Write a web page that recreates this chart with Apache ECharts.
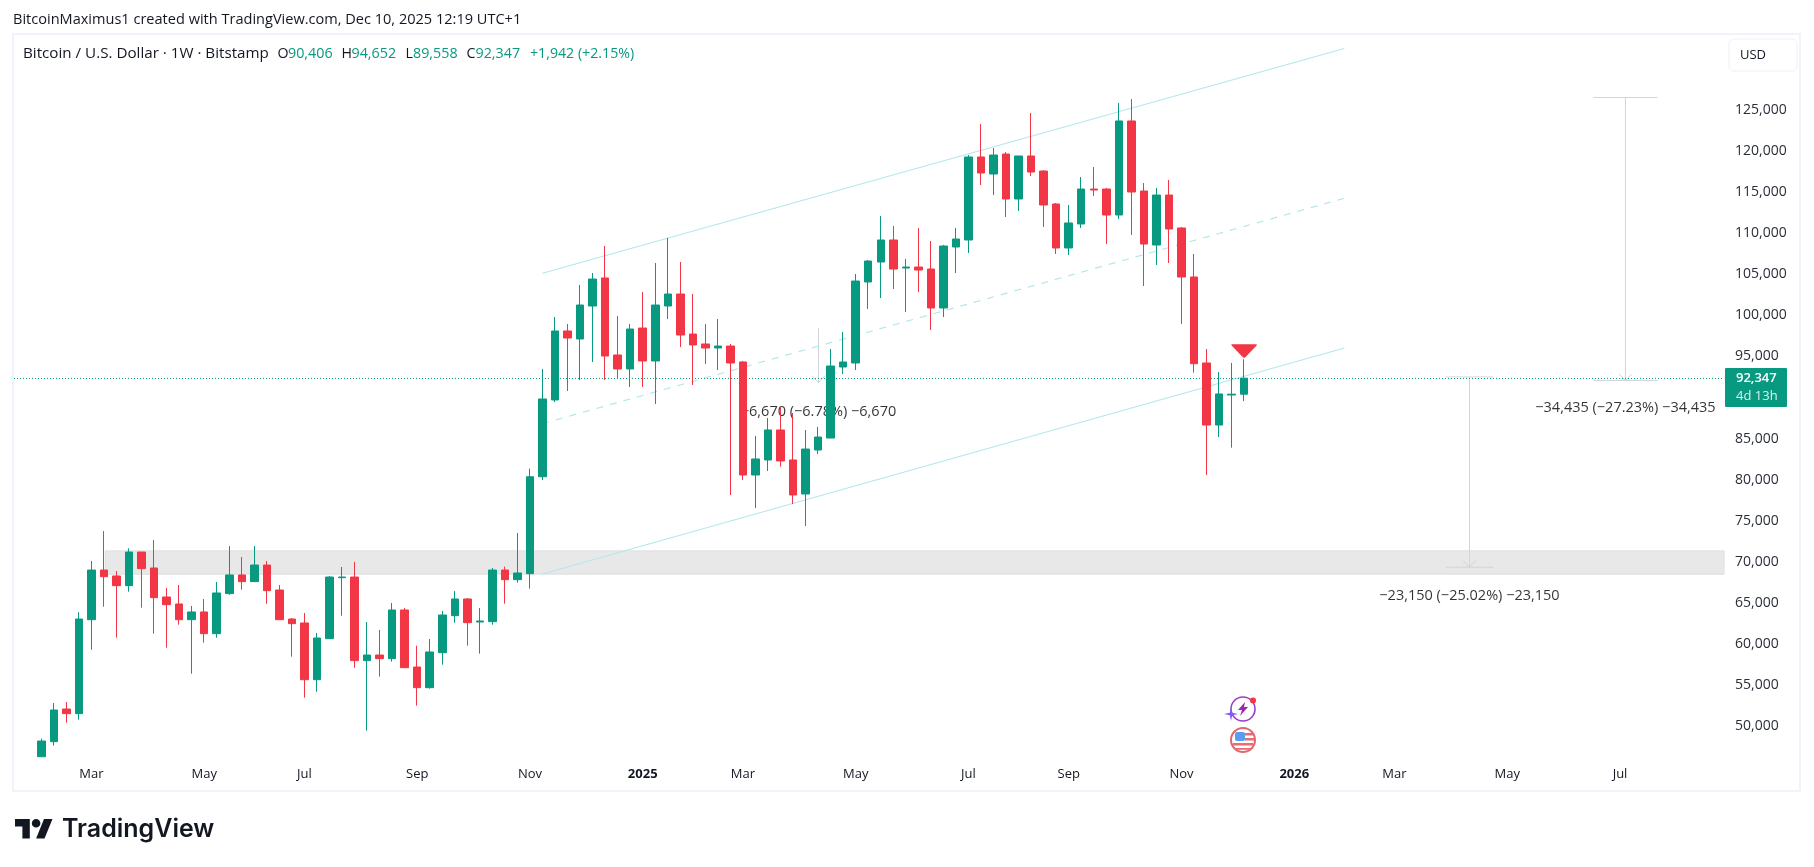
<!DOCTYPE html>
<html>
<head>
<meta charset="utf-8">
<title>Bitcoin / U.S. Dollar 1W</title>
<script src="https://cdn.jsdelivr.net/npm/echarts@6/dist/echarts.min.js"></script>
<style>
  html, body { margin: 0; padding: 0; background: #fff; }
  #chart { width: 1814px; height: 867px; }
</style>
</head>
<body>
<div id="chart"></div>
<script>
// Weekly BTC/USD candles on Bitstamp; the x axis counts weeks from the week of 5 Feb 2024.
const opens = [46300,48130,52100,51540,62970,69010,68290,67110,71200,69260,65730,64880,62970,63910,61270,66140,68410,67600,69620,66580,
  63050,62570,55670,60660,68080,68160,57990,58670,58230,64150,57210,54700,58960,63460,65490,62690,62730,69010,67840,68570,
  80360,89700,98090,97120,101130,104540,95170,93470,98450,94440,101130,102590,97720,96510,96020,96260,94320,80570,82400,86050,
  82400,78260,83610,85070,93710,94200,104050,106480,109160,105750,105870,105630,100890,108310,109160,119260,117190,119620,114150,119380,
  117550,113540,108190,111110,115360,115360,112200,123640,115120,108550,114630,110620,104660,94200,86650,90300,90406];
const closes = [48210,51980,51540,63050,69010,68200,67110,71200,69180,65650,64800,62970,63910,61270,66220,68410,67600,69620,66500,62970,
  62490,55670,60740,68160,68160,57990,58670,58230,64150,57130,54700,59040,63540,65490,62610,62810,69010,67840,68650,80360,
  89820,98090,97240,101250,104410,95050,93470,98330,94440,101250,102590,97600,96390,96020,96260,94200,80570,82520,86050,82280,
  78140,83730,85190,93830,94320,104170,106600,109160,105630,105870,105510,100890,108430,109280,119260,117310,119500,114150,119380,117430,
  113420,108190,111230,115360,115240,112200,123640,115000,108670,114630,110500,104660,94110,86650,90430,90405,92347];
const lows = [46300,47650,50440,50810,59320,64550,60780,66380,64430,61270,59570,62360,56400,60180,60780,66010,66620,67590,64920,62970,
  58470,53480,54210,60660,63460,57130,49470,56040,57860,57130,52510,54580,57500,62610,59810,58840,62360,64920,67470,66740,
  79960,89450,90790,92130,94320,92130,92370,91280,91280,89210,99550,96140,91520,94070,93340,78140,79960,76560,81060,81590,
  77040,74370,83130,85070,92860,93350,100770,102100,103200,100400,102830,98210,99790,105140,107580,115850,114630,111960,112690,116950,
  110740,107460,107330,110620,114510,108670,111710,109770,103560,106120,106360,98940,93020,80570,85190,83900,89558];
const highs = [48500,52840,52960,63870,70110,73760,68890,71650,71210,72660,66830,67190,64640,65490,67560,71930,70600,71930,70110,67190,
  63180,63780,61350,68290,69380,69990,62690,61720,65000,64390,59810,60620,64030,66460,65610,64390,69260,69420,73520,81350,
  93470,99790,98940,103690,105150,108430,99910,98940,102830,106360,109400,106480,102590,98940,99550,96510,94440,85320,87510,88720,
  88110,86050,86410,95900,97970,105020,106730,112080,110860,106850,110620,109040,108550,110620,119500,123270,120350,119860,119380,124610,
  117680,113660,113420,116820,118040,115490,125830,126310,116090,115490,116460,110740,107460,95900,93100,94200,94652];

// Time scale labels sit on the first weekly bar of each month.
const tickWeeks = [4,13,21,30,39,48,56,65,74,82,91,100,108,117,126];
const tickNames = ['Mar','May','Jul','Sep','Nov','2025','Mar','May','Jul','Sep','Nov','2026','Mar','May','Jul'];
const priceTicks = [125000,120000,115000,110000,105000,100000,95000,85000,80000,75000,70000,65000,60000,55000,50000];

// Parallel channel: start and end week, prices at both ends.
const channelWeeks = [40, 104];
const channelUpper = [105110, 132460];
const channelMiddle = [86820, 114240];
const channelLower = [68530, 96020];

// Supply zone between two price levels.
const zoneStartWeek = 5.1;
const zoneTop = 71340;
const zoneBottom = 68510;

const lastClose = 92347;
const signalPrice = 95660;
const weekMin = -2.18;
const weekMax = 134.3;

// Price range measurements: stem week, cap half width in weeks, top, bottom, caption.
const measures = [
  { week: 62.03, cap: 0, top: 98470, bottom: 91800, caption: '\u22126,670 (\u22126.78%) \u22126,670', captionPrice: 88300 },
  { week: 113.987, cap: 1.9, top: 92500, bottom: 69350, caption: '\u221223,150 (\u221225.02%) \u221223,150', captionPrice: 65900 },
  { week: 126.435, cap: 2.55, top: 126496, bottom: 92061, caption: '\u221234,435 (\u221227.23%) \u221234,435', captionPrice: 88700 }
];

const UP = '#089981';
const DOWN = '#f23645';
const CHANNEL = '#b5e6ee';
const MEASURE = '#d1d4dc';
const TEXT = '#131722';
const FONT = '"Open Sans", "Noto Sans", sans-serif';

const candles = opens.map((o, i) => [i, o, closes[i], lows[i], highs[i]]);
const lastWeek = opens.length - 1;

const plain = (name, data, style, z) => ({
  type: 'line', name, data, z: z, symbol: 'none', silent: true, animation: false,
  lineStyle: style
});

const channelSeries = [
  plain('upper', channelWeeks.map((w, i) => [w, channelUpper[i]]), { color: CHANNEL, width: 1.2 }, 3),
  plain('middle', channelWeeks.map((w, i) => [w, channelMiddle[i]]), { color: CHANNEL, width: 1.2, type: [7, 7] }, 3),
  plain('lower', channelWeeks.map((w, i) => [w, channelLower[i]]), { color: CHANNEL, width: 1.2 }, 3)
];

const measureSeries = [];
measures.forEach(m => {
  measureSeries.push(plain('stem', [[m.week, m.top], [m.week, m.bottom]], { color: MEASURE, width: 1 }, 2));
  measureSeries.push(plain('head', [[m.week - 0.5, m.bottom + 800], [m.week, m.bottom], [m.week + 0.5, m.bottom + 800]], { color: MEASURE, width: 1 }, 2));
  if (m.cap) {
    measureSeries.push(plain('cap', [[m.week - m.cap, m.top], [m.week + m.cap, m.top]], { color: MEASURE, width: 1 }, 2));
    measureSeries.push(plain('cap', [[m.week - m.cap, m.bottom], [m.week + m.cap, m.bottom]], { color: MEASURE, width: 1 }, 2));
  }
  measureSeries.push({
    type: 'scatter', name: 'caption', z: 2, silent: true, animation: false, symbolSize: 0,
    data: [[m.week, m.captionPrice]],
    label: { show: true, position: 'inside', formatter: m.caption, color: '#000', fontFamily: FONT, fontSize: 14.5 }
  });
});

const heading = 'BitcoinMaximus1 created with TradingView.com, Dec 10, 2025 12:19 UTC+1';
const legendParts = [
  ['Bitcoin / U.S. Dollar \u00b7 1W \u00b7 Bitstamp', 23, TEXT, 15.2],
  ['O', 277.5, TEXT, 14.2], ['90,406', 288, UP, 14.3],
  ['H', 341.5, TEXT, 14.2], ['94,652', 351.5, UP, 14.3],
  ['L', 405.5, TEXT, 14.2], ['89,558', 413, UP, 14.3],
  ['C', 466.5, TEXT, 14.2], ['92,347', 475.5, UP, 14.3],
  ['+1,942 (+2.15%)', 530, UP, 14.2]
];

const text = (str, x, y, fill, size, extra) => ({
  type: 'text', silent: true, z: 20, x, y,
  style: Object.assign({ x: 0, y: 0, text: str, fill, fontSize: size, fontFamily: FONT, align: 'left', verticalAlign: 'middle' }, extra || {})
});
const poly = (points, fill) => ({ type: 'polygon', silent: true, z: 21, shape: { points }, style: { fill } });
const bar = (x, y, width, height, fill, r) => ({ type: 'rect', silent: true, z: 21, shape: { x, y, width, height, r: r || 0 }, style: { fill } });

const overlay = [
  { type: 'rect', silent: true, z: 0, shape: { x: 13, y: 34, width: 1787, height: 757 }, style: { fill: 'none', stroke: '#f0f3fa', lineWidth: 2 } },
  text(heading, 13, 20, TEXT, 14.55),
  ...legendParts.map(p => text(p[0], p[1], 54, p[2], p[3])),
  { type: 'rect', silent: true, z: 20, shape: { x: 1729, y: 39, width: 68, height: 32, r: 5 }, style: { fill: '#fff', stroke: '#eef0f5', lineWidth: 1 } },
  text('USD', 1740, 55, TEXT, 13),
  { type: 'rect', silent: true, z: 20, shape: { x: 1725, y: 368, width: 62, height: 39, r: 1 }, style: { fill: UP } },
  text('92,347', 1736, 378, '#fff', 13, { fontWeight: 600 }),
  text('4d 13h', 1736, 396, 'rgba(255,255,255,0.85)', 13),
  // Event markers beneath the last candles.
  { type: 'circle', silent: true, z: 20, shape: { cx: 1243, cy: 709, r: 12 }, style: { fill: '#fff', stroke: '#9c3fc4', lineWidth: 1.6 } },
  poly([[1245,702],[1238,710],[1242,710],[1240,716],[1248,707],[1244,707]], '#9c27b0'),
  poly([[1231,707],[1232.2,712.8],[1238,714],[1232.2,715.2],[1231,721],[1229.8,715.2],[1224,714],[1229.8,712.8]], '#7c5cfc'),
  { type: 'circle', silent: true, z: 22, shape: { cx: 1253, cy: 700.5, r: 3 }, style: { fill: DOWN } },
  { type: 'circle', silent: true, z: 20, shape: { cx: 1243, cy: 740, r: 12 }, style: { fill: '#fff', stroke: '#e2666d', lineWidth: 2 } },
  bar(1245, 733, 8, 2.5, '#ea6c72'),
  bar(1245, 738, 9, 2.5, '#ea6c72'),
  bar(1233, 743, 20, 2.5, '#ea6c72'),
  bar(1236, 748, 14, 1.8, '#ea6c72'),
  bar(1235, 732, 10, 9, '#5a9cf0', 2),
  // Footer wordmark.
  poly([[15,819],[29.8,819],[29.8,838.5],[22.4,838.5],[22.4,826.6],[15,826.6]], '#131722'),
  poly([[44,819],[52.5,819],[44.5,838.5],[36.1,838.5]], '#131722'),
  { type: 'circle', silent: true, z: 21, shape: { cx: 36.1, cy: 823.3, r: 4.3 }, style: { fill: '#131722' } },
  text('TradingView', 62, 829, '#131722', 25, { fontFamily: 'Inter, "Open Sans", sans-serif', fontWeight: 600 })
];

const option = {
  animation: false,
  backgroundColor: '#fff',
  textStyle: { fontFamily: FONT },
  grid: { left: 14, top: 35, width: 1710, height: 722, containLabel: false },
  xAxis: {
    type: 'value',
    min: weekMin,
    max: weekMax,
    splitLine: { show: false },
    axisLine: { show: false },
    axisTick: { show: false },
    axisLabel: {
      show: true, margin: 11, color: TEXT, fontFamily: FONT, fontSize: 13, hideOverlap: false,
      customValues: tickWeeks,
      formatter: v => {
        const n = tickNames[tickWeeks.indexOf(v)] || '';
        return /^\d+$/.test(n) ? '{year|' + n + '}' : n;
      },
      rich: { year: { fontWeight: 'bold', color: TEXT, fontFamily: FONT, fontSize: 13 } }
    }
  },
  yAxis: {
    type: 'value',
    position: 'right',
    min: 46265,
    max: 134099,
    splitLine: { show: false },
    axisLine: { show: false },
    axisTick: { show: false },
    axisLabel: {
      show: true, margin: 11, align: 'left', color: '#2a2e39', fontFamily: FONT, fontSize: 14,
      customValues: priceTicks,
      formatter: v => v.toLocaleString('en-US')
    }
  },
  series: [
    {
      type: 'candlestick',
      name: 'BTCUSD',
      z: 5,
      barWidth: 8,
      animation: false,
      silent: true,
      data: candles,
      itemStyle: { color: UP, color0: DOWN, borderColor: UP, borderColor0: DOWN, borderWidth: 1 },
      markArea: {
        silent: true, z: 1,
        itemStyle: { color: '#e8e8e8', borderColor: '#dedede', borderWidth: 1 },
        data: [[{ coord: [zoneStartWeek, zoneTop] }, { coord: [weekMax, zoneBottom] }]]
      },
      markLine: {
        silent: true, symbol: 'none', z: 4, animation: false,
        label: { show: false },
        lineStyle: { color: UP, type: [1, 2], width: 1 },
        data: [{ yAxis: lastClose }]
      },
      markPoint: {
        silent: true, animation: false,
        symbol: 'triangle', symbolRotate: 180, symbolSize: [23, 12],
        itemStyle: { color: DOWN, borderColor: DOWN, borderWidth: 2, borderJoin: 'round' },
        label: { show: false },
        data: [{ coord: [lastWeek, signalPrice] }]
      }
    },
    ...channelSeries,
    ...measureSeries
  ],
  graphic: overlay
};

echarts.init(document.getElementById('chart'), null, { renderer: 'canvas' }).setOption(option);
</script>
</body>
</html>
